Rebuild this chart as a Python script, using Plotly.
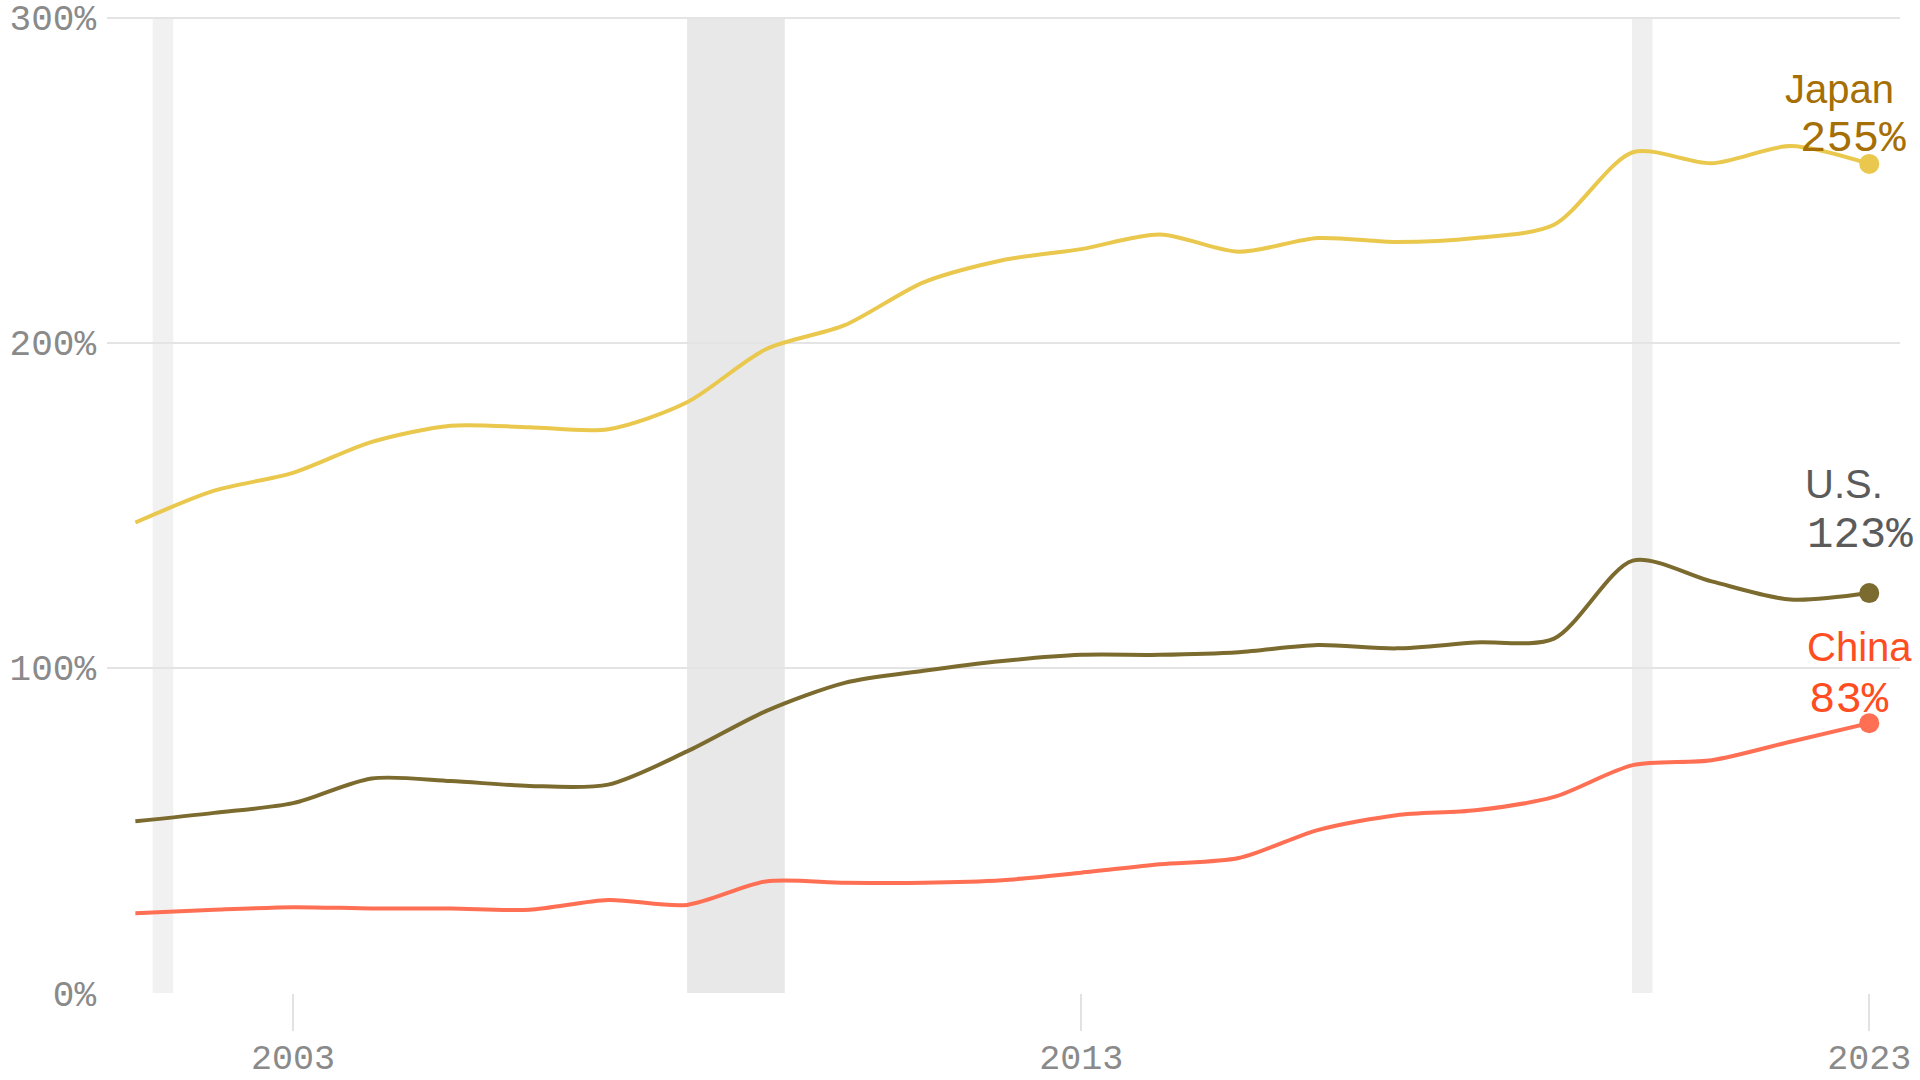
import plotly.graph_objects as go

years = list(range(2001, 2024))
japan = [144.7, 154.5, 160.0, 169.5, 174.5, 174.0, 173.4, 181.7, 198.0, 205.4, 218.6, 225.4,
         228.8, 233.3, 228.0, 232.2, 231.0, 232.2, 236.3, 258.6, 255.2, 260.5, 255.0]
us = [52.8, 55.4, 58.4, 66.0, 65.2, 63.7, 64.1, 74.3, 86.7, 95.4, 99.1, 102.1,
      104.0, 104.0, 104.8, 107.0, 106.0, 107.8, 109.0, 133.0, 126.6, 121.0, 123.0]
china = [24.5, 25.6, 26.4, 26.0, 26.0, 25.6, 28.6, 27.1, 34.3, 33.9, 33.9, 34.7,
         37.0, 39.6, 41.5, 50.1, 54.7, 56.2, 60.3, 70.1, 71.6, 77.3, 83.0]

recession_start = [2001.22, 2008.0, 2019.99]
recession_end = [2001.48, 2009.24, 2020.25]
recession_color = ["#f1f1f1", "#e8e8e8", "#efefef"]

x_ticks = [2003, 2013, 2023]
y_ticks = [0, 100, 200, 300]

series = [
    # name, values, line color, label color, name shift (x,y), pct shift (x,y)
    ("Japan", japan, "#e9c84d", "#a56f06", (-86, 75), (-71, 25)),
    ("U.S.", us, "#7c6b2f", "#5b5b5b", (-66, 109), (-64, 58)),
    ("China", china, "#ff6f54", "#ff4d22", (-64, 76), (-62, 23)),
]

MONO = "Liberation Mono, DejaVu Sans Mono, monospace"
SANS = "Liberation Sans, Arial, sans-serif"

fig = go.Figure()

for s, e, c in zip(recession_start, recession_end, recession_color):
    fig.add_shape(type="rect", xref="x", yref="y", x0=s, x1=e, y0=0, y1=300,
                  fillcolor=c, line_width=0, layer="below")

for name, vals, lc, tc, nshift, pshift in series:
    fig.add_trace(go.Scatter(x=years, y=vals, mode="lines",
                             line=dict(color=lc, width=4, shape="spline", smoothing=0.8),
                             hoverinfo="skip", showlegend=False))
    fig.add_trace(go.Scatter(x=[years[-1]], y=[vals[-1]], mode="markers",
                             marker=dict(color=lc, size=20, line_width=0),
                             hoverinfo="skip", showlegend=False))
    fig.add_annotation(x=years[-1], y=vals[-1], text=name, showarrow=False,
                       xanchor="left", yanchor="middle",
                       xshift=nshift[0], yshift=nshift[1],
                       font=dict(family=SANS, size=40, color=tc))
    fig.add_annotation(x=years[-1], y=vals[-1], text=f"{round(vals[-1])}%", showarrow=False,
                       xanchor="left", yanchor="middle",
                       xshift=pshift[0], yshift=pshift[1],
                       font=dict(family=MONO, size=44, color=tc))

# recession label (mostly cut off at top of page, as in the original)
fig.add_annotation(x=(recession_start[1] + recession_end[1]) / 2 + 0.15, y=1.0, xref="x", yref="paper",
                   text="Recession", showarrow=False, xanchor="center", yanchor="bottom",
                   yshift=3, font=dict(family=MONO, size=38, color="#999999"))

fig.update_layout(
    width=1920, height=1080,
    margin=dict(l=107, r=20, t=16, b=87, autoexpand=False),
    paper_bgcolor="white", plot_bgcolor="white",
    xaxis=dict(range=[2000.64, 2023.39], tickvals=x_ticks, ticktext=[str(t) for t in x_ticks],
               showgrid=False, zeroline=False, showline=False, automargin=False,
               ticks="outside", ticklen=37, tickwidth=2, tickcolor="#e2e2e2",
               ticklabelstandoff=-4, ticklabeloverflow="allow",
               tickfont=dict(family=MONO, size=35, color="#8a8a8a")),
    yaxis=dict(range=[0, 300.5], tickvals=y_ticks, ticktext=[f"{t}%" for t in y_ticks],
               showgrid=True, gridcolor="#e4e4e4", gridwidth=2, zeroline=False, showline=False,
               ticks="", ticklabelstandoff=10, automargin=False, ticklabeloverflow="allow",
               tickfont=dict(family=MONO, size=36, color="#8a8a8a")),
)

fig.write_html("out.html", config={"displayModeBar": False},
               post_script="document.body.style.margin='0';document.body.style.overflow='hidden';")
